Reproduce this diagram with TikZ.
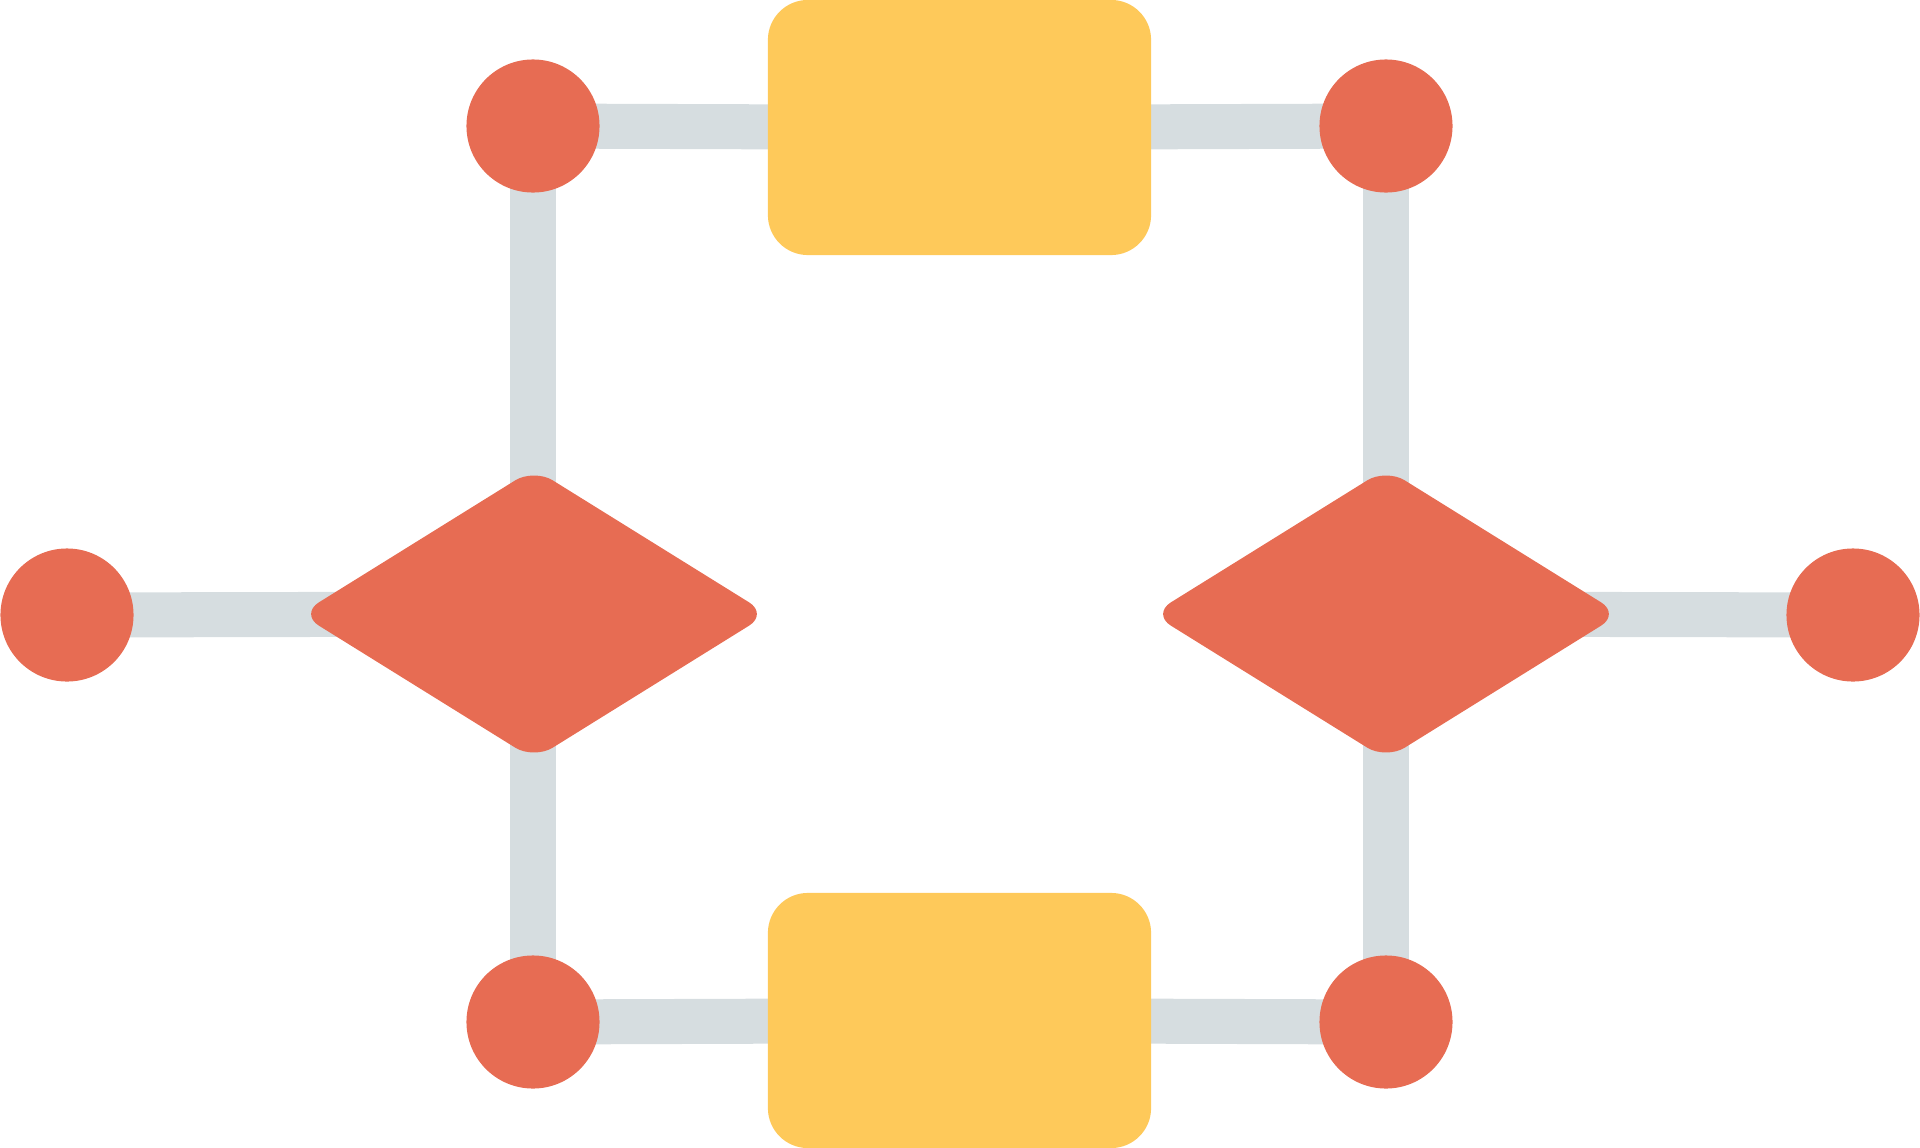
\documentclass[tikz,border=0pt]{standalone}
\usepackage{tikz}
\usepackage{xcolor}
\usetikzlibrary{shapes.geometric}

\definecolor{dotred}{HTML}{E76C53}
\definecolor{boxyellow}{HTML}{FEC95A}
\definecolor{bargrey}{HTML}{D6DDE0}

\pgfdeclarelayer{background}
\pgfsetlayers{background,main}

\begin{document}
\begin{tikzpicture}[x=0.01cm,y=-0.01cm,
    dot/.style={circle,fill=dotred,inner sep=0pt,minimum size=1.33cm},
    choice/.style={diamond,fill=dotred,inner sep=0pt,minimum width=4.68cm,minimum height=2.91cm,rounded corners=0.22cm},
    block/.style={rectangle,fill=boxyellow,inner sep=0pt,minimum width=3.83cm,minimum height=2.55cm,rounded corners=0.4cm},
    bar/.style={bargrey,line width=0.45cm}]
    \useasboundingbox (0,0) rectangle (1920,1148);

    \node[dot] (l) at (67,615) {};
    \node[dot] (r) at (1853,615) {};
    \node[dot] (tl) at (533,126) {};
    \node[dot] (tr) at (1386,126) {};
    \node[dot] (bl) at (533,1022) {};
    \node[dot] (br) at (1386,1022) {};

    \node[choice] (ld) at (534,614) {};
    \node[choice] (rd) at (1386,614) {};

    \node[block] (top) at (959.5,127.5) {};
    \node[block] (bot) at (959.5,1020.5) {};

    \begin{pgfonlayer}{background}
        \draw[bar] (l.center) -- (ld.center);
        \draw[bar] (rd.center) -- (r.center);
        \draw[bar] (tl.center) -- (bl.center);
        \draw[bar] (tr.center) -- (br.center);
        \draw[bar] (tl.center) -- (top.center) -- (tr.center);
        \draw[bar] (bl.center) -- (bot.center) -- (br.center);
    \end{pgfonlayer}
\end{tikzpicture}
\end{document}
